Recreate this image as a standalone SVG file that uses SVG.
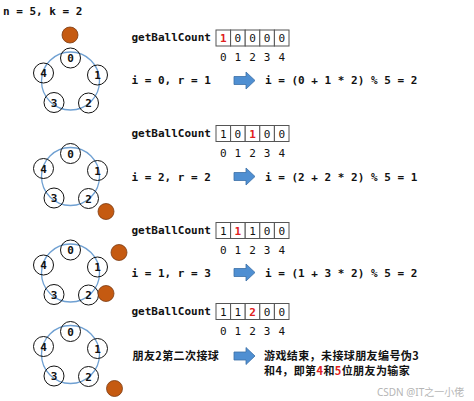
<svg xmlns="http://www.w3.org/2000/svg" width="474" height="401" viewBox="0 0 474 401">
<style>
.mono{font-family:"DejaVu Sans Mono","Liberation Mono",monospace;font-size:11px;fill:#111}
.b{font-weight:bold}
.red{fill:#e02020;font-weight:bold}
.cell{fill:#fff;stroke:#555;stroke-width:1}
.ring{fill:none;stroke:#6fa0d2;stroke-width:1.3}
.nd{fill:none;stroke:#111;stroke-width:1}
.nt{font-family:"DejaVu Sans Mono",monospace;font-size:11px;font-weight:bold;fill:#111;text-anchor:middle}
.ball{fill:#c55a11;stroke:#7a3a12;stroke-width:0.8}
.arr{fill:#4f8fd2;stroke:#3b6ea6;stroke-width:0.8}
.cjk{font-family:"Noto Sans CJK SC",sans-serif;font-size:11px;font-weight:bold;fill:#111;letter-spacing:0.4px}
.idx{text-anchor:middle}
.wm{font-family:"Noto Sans","Noto Sans CJK SC",sans-serif;font-size:10px;fill:#b5b5b5}
</style>
<defs>
<g id="nodes">
<circle class="ring" cx="70.5" cy="23" r="29"/>
<g id="n0"><circle class="nd" cx="70.5" cy="0" r="10"/><text class="nt" x="70.5" y="4">0</text></g>
<g id="n1"><circle class="nd" cx="97.5" cy="17" r="10"/><text class="nt" x="97.5" y="21">1</text></g>
<g id="n2"><circle class="nd" cx="88.5" cy="45" r="10"/><text class="nt" x="88.5" y="49">2</text></g>
<g id="n3"><circle class="nd" cx="54" cy="44.5" r="10"/><text class="nt" x="54" y="48.5">3</text></g>
<g id="n4"><circle class="nd" cx="43.5" cy="15" r="10"/><text class="nt" x="43.5" y="19">4</text></g>
</g>
<g id="cells">
<rect class="cell" x="216" y="0" width="14.6" height="16"/>
<rect class="cell" x="230.6" y="0" width="14.6" height="16"/>
<rect class="cell" x="245.2" y="0" width="14.6" height="16"/>
<rect class="cell" x="259.8" y="0" width="14.6" height="16"/>
<rect class="cell" x="274.4" y="0" width="14.6" height="16"/>
<text class="mono idx" y="31"><tspan x="223.3">0</tspan><tspan x="237.9">1</tspan><tspan x="252.5">2</tspan><tspan x="267.1">3</tspan><tspan x="281.7">4</tspan></text>
</g>
<path id="arrow" class="arr" d="M234,-4 H246 V-8.5 L255,0 L246,8.5 V4 H234 Z"/>
</defs>

<text class="mono b" x="3" y="15">n = 5, k = 2</text>

<!-- panel 1 -->
<g id="ring1"><use href="#nodes" transform="translate(0,58)"/></g>
<g id="ball1"><circle class="ball" cx="70" cy="35" r="8"/></g>
<g id="array1">
<text class="mono b" x="131.5" y="41">getBallCount</text>
<use href="#cells" transform="translate(0,30)"/>
<text class="mono idx" y="42"><tspan class="red" x="223.3">1</tspan><tspan x="237.9">0</tspan><tspan x="252.5">0</tspan><tspan x="267.1">0</tspan><tspan x="281.7">0</tspan></text>
</g>
<g id="step1">
<text class="mono b" x="131.5" y="84">i = 0, r = 1</text>
<text class="mono b" x="265" y="84">i = (0 + 1 * 2) % 5 = 2</text>
</g>

<!-- panel 2 -->
<g id="ring2"><use href="#nodes" transform="translate(0,153.5)"/></g>
<g id="ball2"><circle class="ball" cx="106" cy="211.5" r="8"/></g>
<g id="array2">
<text class="mono b" x="131.5" y="136.5">getBallCount</text>
<use href="#cells" transform="translate(0,125.5)"/>
<text class="mono idx" y="137.5"><tspan x="223.3">1</tspan><tspan x="237.9">0</tspan><tspan class="red" x="252.5">1</tspan><tspan x="267.1">0</tspan><tspan x="281.7">0</tspan></text>
</g>
<g id="step2">
<text class="mono b" x="131.5" y="180.5">i = 2, r = 2</text>
<text class="mono b" x="265" y="180.5">i = (2 + 2 * 2) % 5 = 1</text>
</g>

<!-- panel 3 -->
<g id="ring3"><use href="#nodes" transform="translate(0,250)"/></g>
<g id="ball3a"><circle class="ball" cx="119" cy="252.5" r="8"/></g>
<g id="ball3b"><circle class="ball" cx="106" cy="293.5" r="8"/></g>
<g id="array3">
<text class="mono b" x="131.5" y="233.5">getBallCount</text>
<use href="#cells" transform="translate(0,222.5)"/>
<text class="mono idx" y="234.5"><tspan x="223.3">1</tspan><tspan class="red" x="237.9">1</tspan><tspan x="252.5">1</tspan><tspan x="267.1">0</tspan><tspan x="281.7">0</tspan></text>
</g>
<g id="step3">
<text class="mono b" x="131.5" y="276.5">i = 1, r = 3</text>
<text class="mono b" x="265" y="276.5">i = (1 + 3 * 2) % 5 = 2</text>
</g>

<!-- panel 4 -->
<g id="ring4"><use href="#nodes" transform="translate(0,331.5)"/></g>
<g id="ball4"><circle class="ball" cx="114.5" cy="388.5" r="8"/></g>
<g id="array4">
<text class="mono b" x="131.5" y="314.5">getBallCount</text>
<use href="#cells" transform="translate(0,303.5)"/>
<text class="mono idx" y="315.5"><tspan x="223.3">1</tspan><tspan x="237.9">1</tspan><tspan class="red" x="252.5">2</tspan><tspan x="267.1">0</tspan><tspan x="281.7">0</tspan></text>
</g>
<g id="step4">
<text class="cjk" x="132.5" y="359.5">朋友2第二次接球</text>
<text class="cjk" x="264" y="360">游戏结束，未接球朋友编号伪3</text>
<text class="cjk" x="264" y="374.5">和4，即第<tspan fill="#e02020">4</tspan>和<tspan fill="#e02020">5</tspan>位朋友为输家</text>
</g>

<g id="connectors">
<use href="#arrow" transform="translate(0,80.5)"/>
<use href="#arrow" transform="translate(0,176.5)"/>
<use href="#arrow" transform="translate(0,272.5)"/>
<use href="#arrow" transform="translate(0,356)"/>
</g>

<text class="wm" x="377" y="395.5">CSDN @IT之一小佬</text>
</svg>
